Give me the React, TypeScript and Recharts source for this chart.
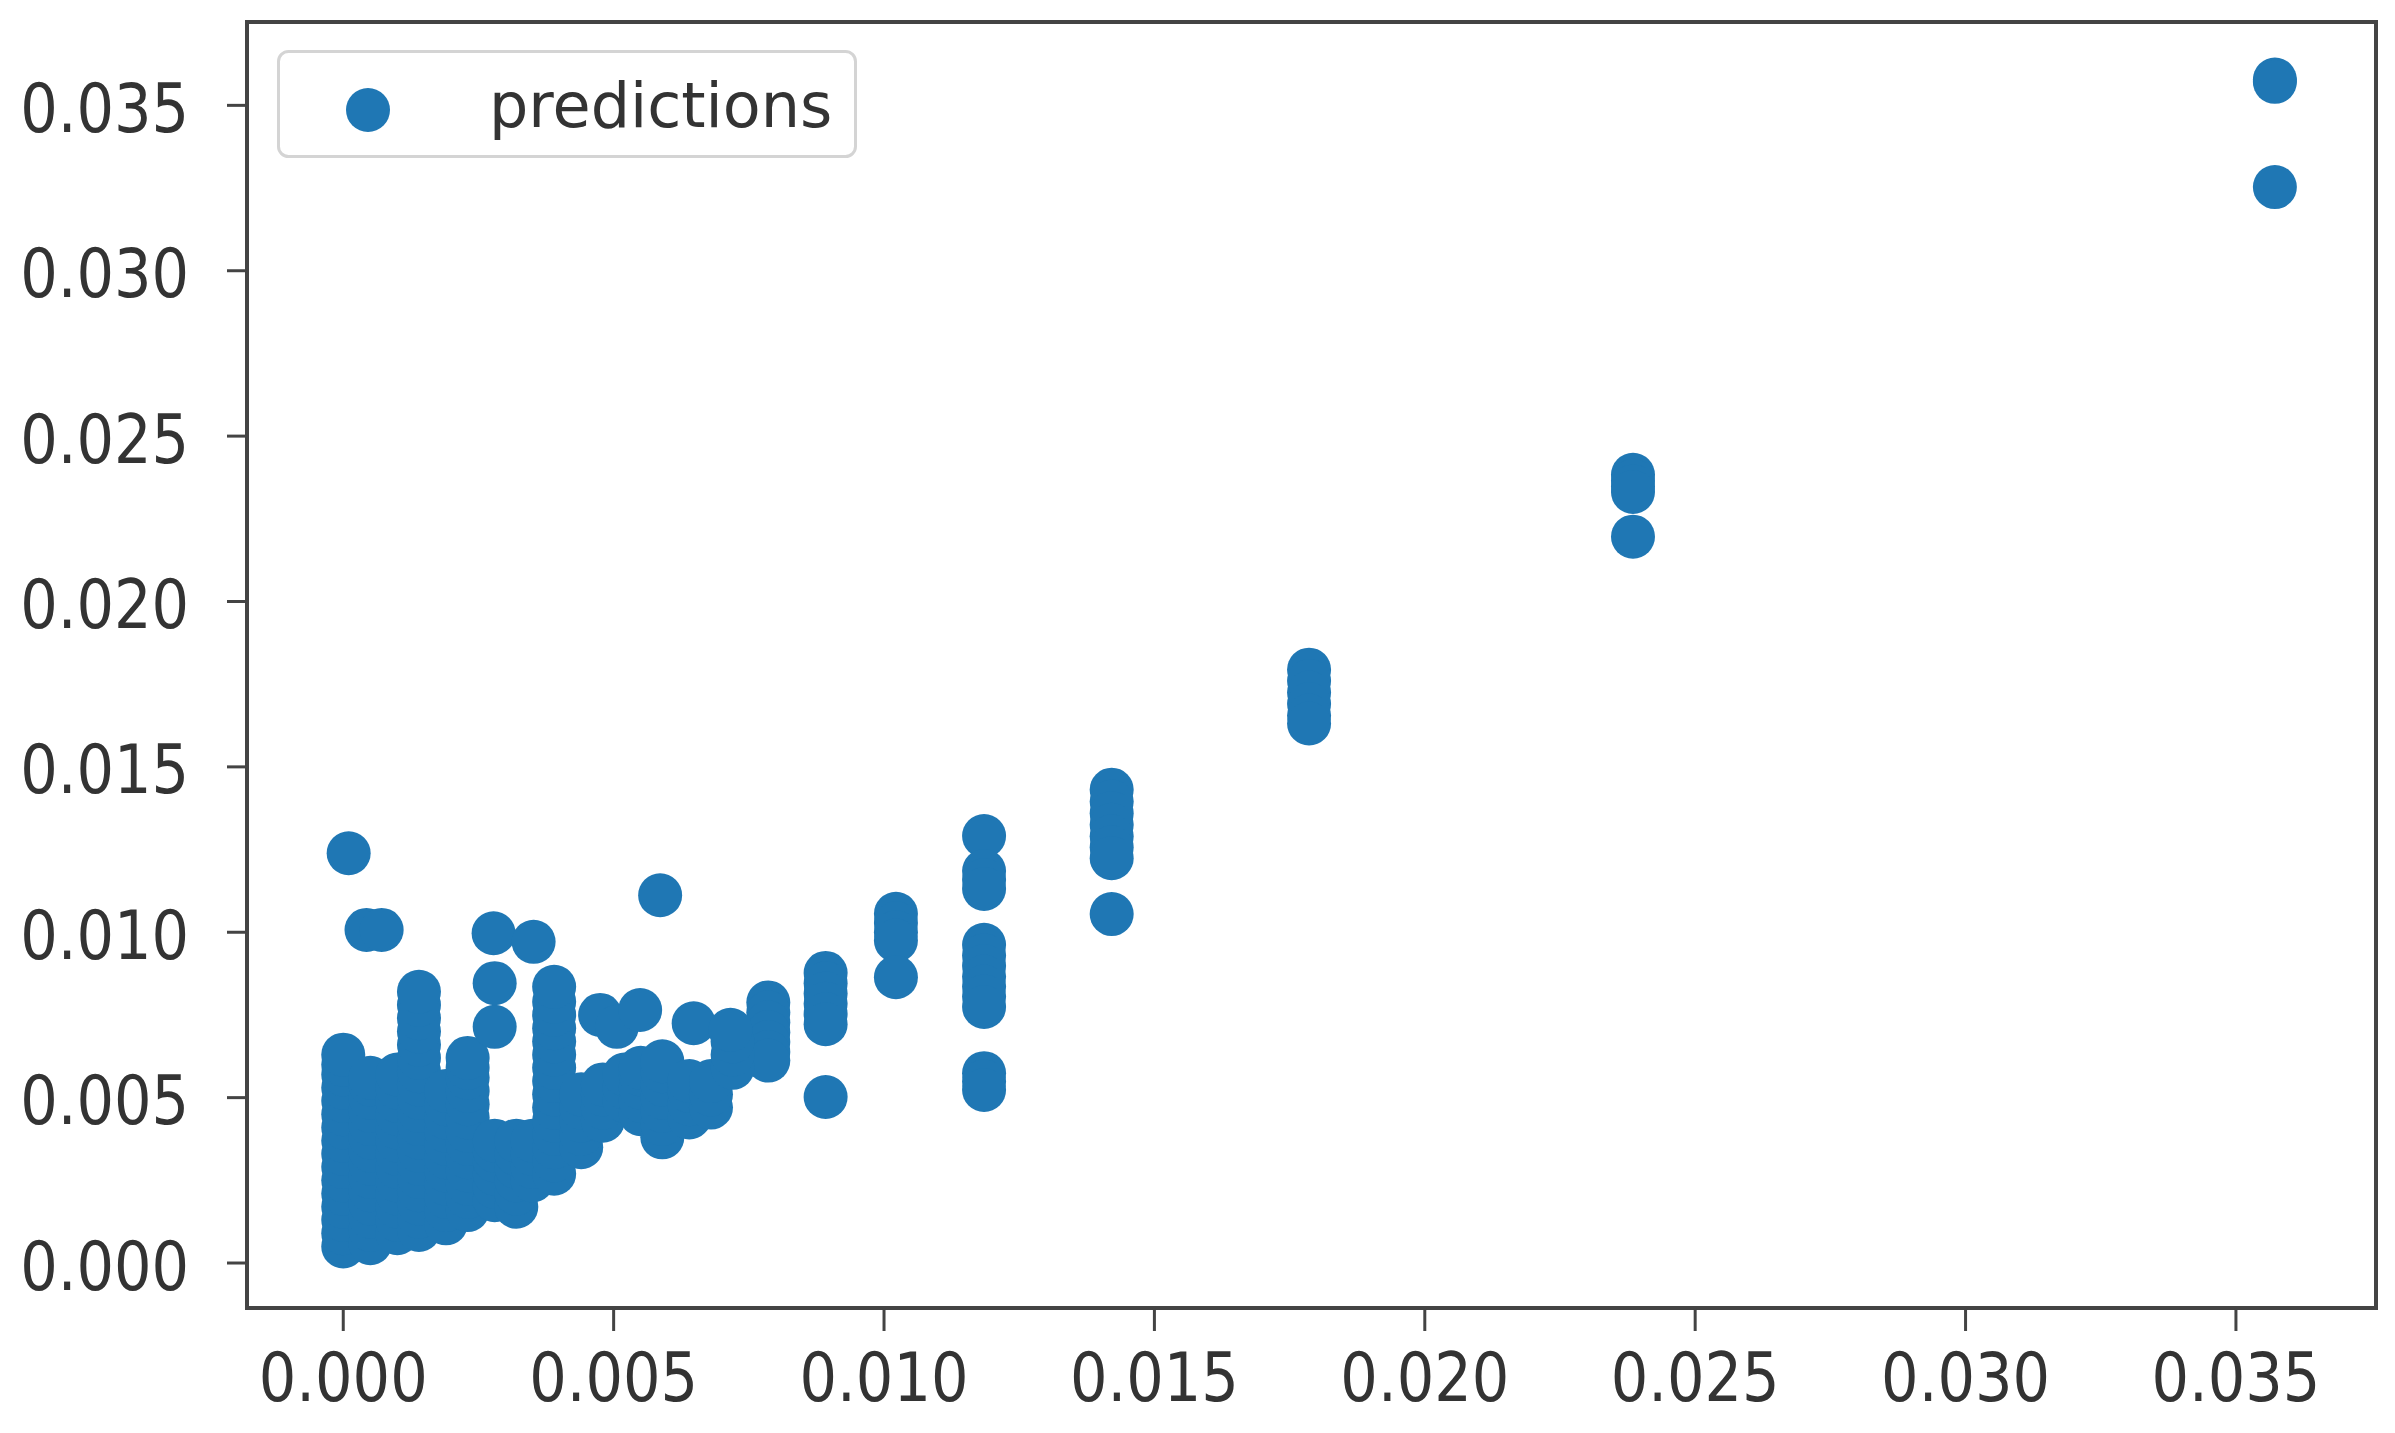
import React from "react";
import { ScatterChart, Scatter, XAxis, YAxis, ReferenceArea, Legend } from "recharts";

const BLUE = "#1f77b4";
const INK = "#333333";
const SPINE = "#444444";

const X_TICKS = [0, 0.005, 0.01, 0.015, 0.02, 0.025, 0.03, 0.035];
const Y_TICKS = [0, 0.005, 0.01, 0.015, 0.02, 0.025, 0.03, 0.035];
const X_DOMAIN: [number, number] = [-0.00178, 0.03759];
const Y_DOMAIN: [number, number] = [-0.00136, 0.03752];

// vertical stacks of predictions at the larger x values
const col0357 = [0.03578, 0.03571, 0.03253];
const col0238 = [0.02383, 0.02365, 0.02348, 0.02331, 0.02196];
const col0179 = [0.01794, 0.0176, 0.01725, 0.0169, 0.01655, 0.01631];
const col0142 = [0.01431, 0.01395, 0.0136, 0.01325, 0.0129, 0.01257, 0.01224, 0.01055];
const col0119 = [
  0.01291, 0.01185, 0.01158, 0.01131, 0.00962, 0.0093, 0.00898, 0.00866, 0.00836,
  0.00806, 0.00774, 0.00574, 0.00549, 0.00523,
];
const col0102 = [0.01056, 0.01028, 0.01, 0.00975, 0.00864];
const col0089 = [0.00877, 0.00846, 0.00815, 0.00784, 0.00753, 0.00722, 0.00502];
const col0079 = [0.00788, 0.00758, 0.00728, 0.00698, 0.00668, 0.00638, 0.00612];

// dense cluster near the origin
const blob0000 = [
  0.0005, 0.0009, 0.0013, 0.0017, 0.0021, 0.0025, 0.0029, 0.0033, 0.0037, 0.0041,
  0.0045, 0.0049, 0.0053, 0.0057, 0.006, 0.0063,
];
const blob0005 = [
  0.0006, 0.001, 0.0014, 0.0018, 0.0022, 0.0026, 0.003, 0.0034, 0.0038, 0.0042,
  0.0046, 0.005, 0.0054, 0.0056,
];
const blob0010 = [
  0.0009, 0.0013, 0.0017, 0.0021, 0.0025, 0.0029, 0.0033, 0.0037, 0.0041, 0.0045,
  0.0049, 0.0053, 0.0057,
];
const blob0014 = [
  0.001, 0.0014, 0.0018, 0.0022, 0.0026, 0.003, 0.0034, 0.0038, 0.0042, 0.0046,
  0.005, 0.0054, 0.0058, 0.0062, 0.0066, 0.007, 0.0074, 0.0078, 0.0082,
];
const blob0019 = [0.0012, 0.0016, 0.002, 0.0024, 0.0028, 0.0032, 0.0036, 0.004, 0.0044, 0.0048, 0.0052];
const blob0023 = [
  0.0016, 0.002, 0.0024, 0.0028, 0.0032, 0.0036, 0.004, 0.0044, 0.0048, 0.0052,
  0.0056, 0.0059, 0.0062,
];
const blob0028 = [0.0019, 0.0023, 0.0027, 0.0031, 0.0034, 0.0037, 0.00714, 0.00846];
const blob0032 = [0.0017, 0.0021, 0.0025, 0.0029, 0.0033, 0.0037];
const blob0035 = [0.0025, 0.0029, 0.0033, 0.0037];
const blob0039 = [
  0.0027, 0.0031, 0.0035, 0.0039, 0.0043, 0.0047, 0.0051, 0.0055, 0.0059, 0.0063,
  0.0067, 0.0071, 0.0075, 0.0079, 0.00835,
];

// band between 0.004 and 0.008
const band0044 = [0.0035, 0.0039, 0.0043, 0.0047, 0.0051];
const band0048 = [0.0043, 0.0047, 0.0051, 0.0054];
const band0052 = [0.0049, 0.0053, 0.0057];
const band0055 = [0.0045, 0.0049, 0.0053, 0.0057, 0.0059];
const band0059 = [0.0038, 0.0042, 0.0046, 0.005, 0.0054, 0.0058, 0.0061];
const band0064 = [0.0044, 0.0048, 0.0052, 0.0055];
const band0068 = [0.0047, 0.0051, 0.0055];
const band0072 = [0.0059, 0.0063, 0.0067];

// single points
const looseX = [0.0001, 0.00043, 0.00071, 0.00586, 0.00278, 0.00352, 0.00475, 0.00506, 0.00549, 0.00648, 0.00716];
const looseY = [0.01239, 0.01007, 0.01007, 0.01112, 0.00997, 0.00971, 0.0075, 0.00714, 0.00765, 0.00725, 0.00705];

const COLUMNS: [number, number[]][] = [
  [0.03572, col0357],
  [0.02385, col0238],
  [0.01786, col0179],
  [0.01421, col0142],
  [0.01185, col0119],
  [0.01022, col0102],
  [0.00892, col0089],
  [0.00786, col0079],
  [0.0, blob0000],
  [0.0005, blob0005],
  [0.001, blob0010],
  [0.0014, blob0014],
  [0.0019, blob0019],
  [0.0023, blob0023],
  [0.0028, blob0028],
  [0.0032, blob0032],
  [0.0035, blob0035],
  [0.0039, blob0039],
  [0.0044, band0044],
  [0.0048, band0048],
  [0.0052, band0052],
  [0.0055, band0055],
  [0.0059, band0059],
  [0.0064, band0064],
  [0.0068, band0068],
  [0.0072, band0072],
];

const predictions = [
  ...COLUMNS.flatMap(([x, ys]) => ys.map((y) => ({ x, y }))),
  ...looseX.map((x, i) => ({ x, y: looseY[i] })),
];

const fmt = (v: number) => v.toFixed(3);

function Dot(props: any) {
  return <circle cx={props.cx} cy={props.cy} r={22} fill={BLUE} />;
}

function YTick({ x, y, payload }: any) {
  return (
    <g transform={`translate(${x},${y + 3}) scale(1,1.16)`}>
      <text x={0} y={0} textAnchor="end" dominantBaseline="central" fontSize={59} fill={INK} fontFamily="DejaVu Sans">
        {fmt(payload.value)}
      </text>
    </g>
  );
}

function XTick({ x, y, payload }: any) {
  return (
    <g transform={`translate(${x},${y}) scale(1,1.16)`}>
      <text x={0} y={0} textAnchor="middle" dominantBaseline="central" fontSize={59} fill={INK} fontFamily="DejaVu Sans">
        {fmt(payload.value)}
      </text>
    </g>
  );
}

function LegendBox() {
  return (
    <svg width={580} height={108} style={{ display: "block" }}>
      <rect x={1.5} y={1.5} width={577} height={105} rx={10} fill="#fff" fillOpacity={0.8} stroke="#d4d4d4" strokeWidth={3} />
      <circle cx={91} cy={60} r={22} fill={BLUE} />
      <text x={212} y={77} fontSize={62} fill={INK} fontFamily="DejaVu Sans">
        predictions
      </text>
    </svg>
  );
}

export default function App() {
  return (
    <div style={{ position: "absolute", left: 0, top: 0, width: 2395, height: 1433, background: "#fff" }}>
      <ScatterChart width={2395} height={1433} margin={{ top: 22, right: 19, bottom: 25, left: 0 }}>
        <XAxis
          type="number"
          dataKey="x"
          domain={X_DOMAIN}
          ticks={X_TICKS}
          allowDataOverflow
          height={100}
          tickSize={23}
          tickMargin={46}
          tick={<XTick />}
          axisLine={{ stroke: SPINE, strokeWidth: 4 }}
          tickLine={{ stroke: SPINE, strokeWidth: 3 }}
        />
        <YAxis
          type="number"
          dataKey="y"
          domain={Y_DOMAIN}
          ticks={Y_TICKS}
          allowDataOverflow
          width={247}
          tickSize={20}
          tickMargin={38}
          tick={<YTick />}
          axisLine={{ stroke: SPINE, strokeWidth: 4 }}
          tickLine={{ stroke: SPINE, strokeWidth: 3 }}
        />
        <ReferenceArea
          x1={X_DOMAIN[0]}
          x2={X_DOMAIN[1]}
          y1={Y_DOMAIN[0]}
          y2={Y_DOMAIN[1]}
          fill="none"
          fillOpacity={0}
          stroke={SPINE}
          strokeWidth={4}
        />
        <Scatter name="predictions" data={predictions} fill={BLUE} shape={<Dot />} isAnimationActive={false} />
        <Legend
          layout="horizontal"
          verticalAlign="middle"
          align="center"
          wrapperStyle={{ position: "absolute", left: 277, top: 50, width: "auto", height: "auto" }}
          content={() => <LegendBox />}
        />
      </ScatterChart>
    </div>
  );
}
